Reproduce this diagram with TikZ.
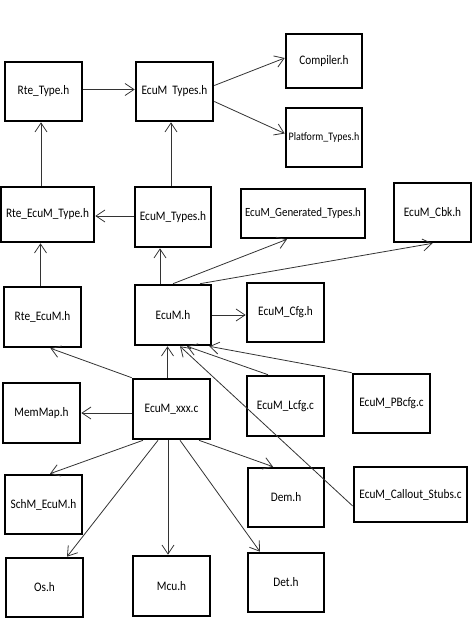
\documentclass[tikz,border=0pt]{standalone}
\usepackage{fontspec}
\setmainfont{Carlito}[FakeStretch=0.87]
\usetikzlibrary{arrows.meta}

\begin{document}
\begin{tikzpicture}[x=1pt, y=-1pt,
    file/.style={draw, line width=2.6pt, minimum width=77pt, minimum height=59pt, font=\fontsize{13}{15}\selectfont, inner sep=1pt},
    dep/.style={line width=0.8pt, black!80, -{Straight Barb[length=9pt, width=12pt]}}]
        \useasboundingbox (0,0) rectangle (474,621);

        \node[file] at (43.5,91.5) (rte) {Rte\_Type.h};
        \node[file] at (174.5,91.5) (types) {EcuM\ \ Types.h};
        \node[file, minimum width=76pt, minimum height=54pt] at (324,61) (comp) {Compiler.h};
        \node[file, minimum width=76pt, font=\fontsize{11.5}{13}\selectfont] at (324,137.5) (plat) {Platform\_Types.h};
        \node[file, minimum width=93pt, minimum height=55pt] at (47.5,214.5) (rtee) {Rte\_EcuM\_Type.h};
        \node[file, minimum width=76pt, minimum height=60pt] at (173,217) (etypes) {EcuM\_Types.h};
        \node[file, minimum width=124pt, minimum height=49pt, font=\fontsize{12.5}{14}\selectfont] at (303,213.5) (gen) {EcuM\_Generated\_Types.h};
        \node[file] at (432.5,212.5) (cbk) {EcuM\_Cbk.h};
        \node[file, minimum height=60pt] at (42.5,317) (rtem) {Rte\_EcuM.h};
        \node[file, minimum width=76pt, minimum height=60pt] at (173,315) (ecum) {EcuM.h};
        \node[file] at (285.5,312.5) (cfg) {EcuM\_Cfg.h};
        \node[file, minimum height=60pt] at (41.5,413) (mem) {MemMap.h};
        \node[file, minimum height=60pt] at (171.5,409) (xxx) {EcuM\_xxx.c};
        \node[file, minimum height=60pt] at (285.5,406) (lcfg) {EcuM\_Lcfg.c};
        \node[file] at (391.5,403.5) (pb) {EcuM\_PBcfg.c};
        \node[file] at (43.5,504.5) (schm) {SchM\_EcuM.h};
        \node[file, minimum width=76pt] at (286,497.5) (dem) {Dem.h};
        \node[file, minimum width=113pt, minimum height=55pt] at (410.5,494.5) (stubs) {EcuM\_Callout\_Stubs.c};
        \node[file] at (44.5,587.5) (os) {Os.h};
        \node[file, minimum height=60pt] at (171.5,586) (mcu) {Mcu.h};
        \node[file, minimum width=76pt] at (286,582.5) (det) {Det.h};

        % top row
        \draw[dep] ([yshift=2pt]rte.east) -- ([yshift=2pt]types.west);
        \draw[dep] ([yshift=6pt]types.east) -- ([yshift=3pt]comp.west);
        \draw[dep] ([yshift=-10pt]types.east) -- ([yshift=4pt]plat.west);
        \draw[dep] ([xshift=-6.5pt]rtee.north) -- ([xshift=-2.5pt]rte.south);
        \draw[dep] ([xshift=-2pt]etypes.north) -- ([xshift=-3.5pt]types.south);
        \draw[dep] ([yshift=1pt]etypes.west) -- ([yshift=-1.5pt]rtee.east);
        % EcuM.h
        \draw[dep] ([xshift=-2pt]rtem.north) -- ([xshift=-7pt]rtee.south);
        \draw[dep] ([xshift=-13pt]ecum.north) -- ([xshift=-13pt]etypes.south);
        \draw[dep] (ecum.north) -- ([xshift=-16pt]gen.south);
        \draw[dep] ([xshift=27pt]ecum.north) -- (cbk.south);
        \draw[dep] (ecum.east) -- (ecum.east -| cfg.west);
        % into EcuM.h
        \draw[dep] (xxx.north west) -- ([xshift=8pt]rtem.south);
        \draw[dep] ([xshift=-4pt]xxx.north) -- ([xshift=-5.5pt]ecum.south);
        \draw[dep] ([xshift=-17.5pt]lcfg.north) -- ([xshift=14pt]ecum.south);
        \draw[dep] (pb.north west) -- ([xshift=-3pt]ecum.south east);
        \draw[dep] ([yshift=-11.5pt]stubs.west) -- ([xshift=7pt]ecum.south);
        % EcuM_xxx.c
        \draw[dep] (xxx.west |- mem.east) -- (mem.east);
        \draw[dep] ([xshift=-28.5pt]xxx.south) -- ([xshift=6.5pt]schm.north);
        \draw[dep] ([xshift=-13.5pt]xxx.south) -- ([xshift=22.5pt]os.north);
        \draw[dep] ([xshift=-3.5pt]xxx.south) -- ([xshift=-3.5pt]mcu.north);
        \draw[dep] ([xshift=8.5pt]xxx.south) -- ([xshift=-26pt]det.north);
        \draw[dep] ([xshift=27.5pt]xxx.south) -- ([xshift=-13pt]dem.north);
      \end{tikzpicture}
\end{document}
